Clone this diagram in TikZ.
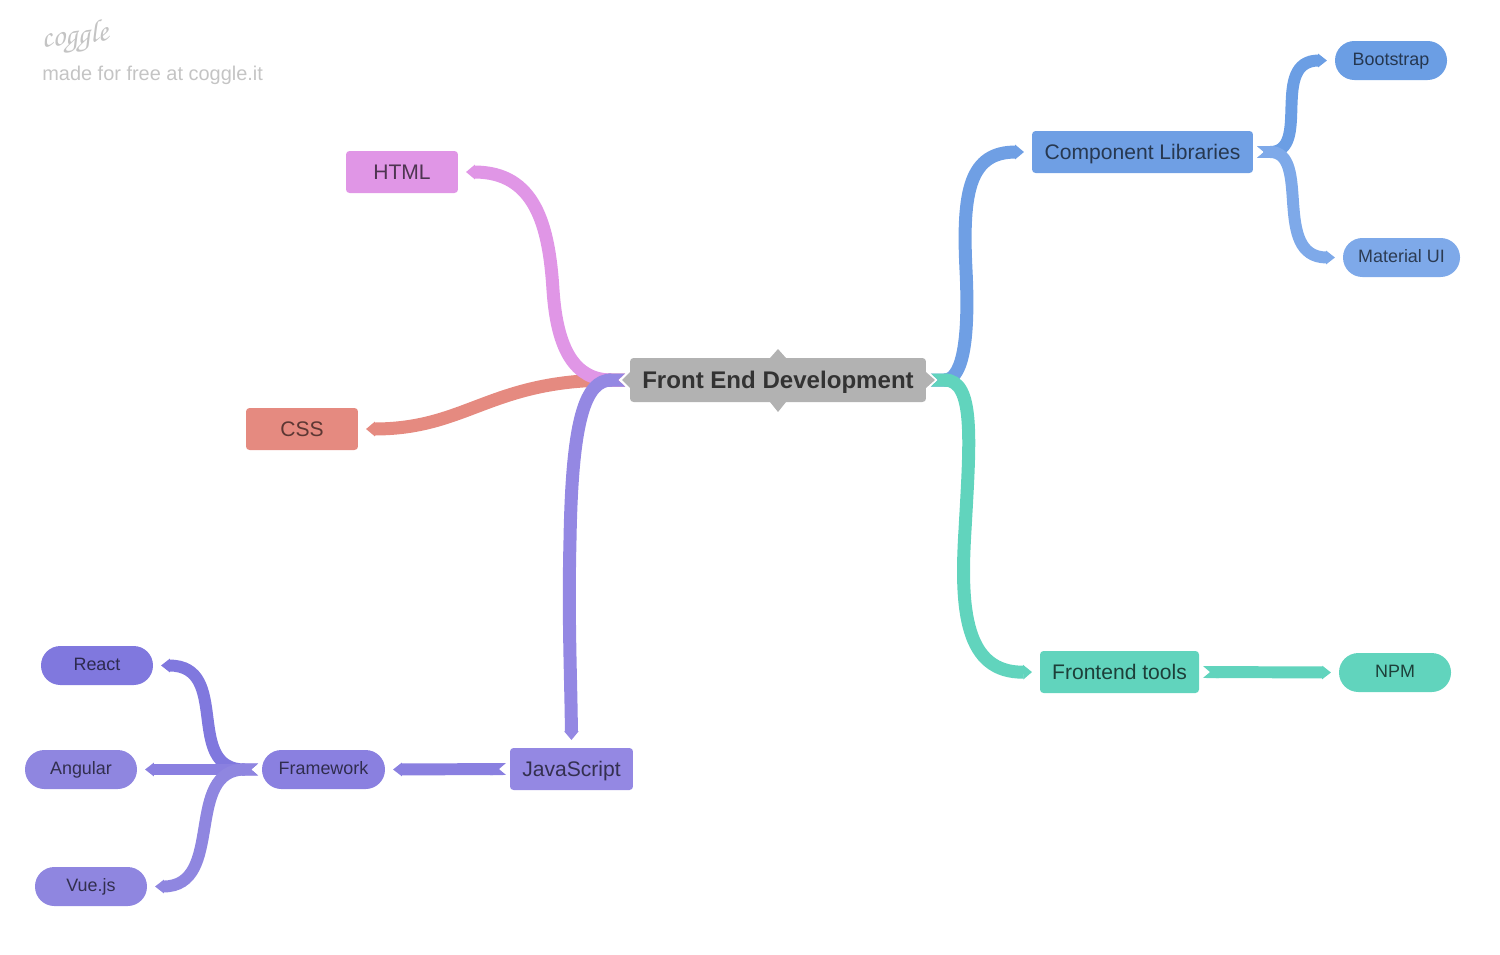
\documentclass[tikz,border=0pt]{standalone}
\usepackage{fontspec}
\setmainfont{Liberation Sans}
\usetikzlibrary{arrows.meta}

\definecolor{rootgray}{HTML}{B2B2B2}
\definecolor{htmlpink}{HTML}{E096E6}
\definecolor{csssalmon}{HTML}{E58A80}
\definecolor{jspurple}{HTML}{9488E3}
\definecolor{leafpurple}{HTML}{8F86E0}
\definecolor{reactpurple}{HTML}{8078DE}
\definecolor{framepurple}{HTML}{8A80E0}
\definecolor{libblue}{HTML}{6F9FE4}
\definecolor{bootblue}{HTML}{6B9EE4}
\definecolor{matblue}{HTML}{7EA9E9}
\definecolor{toolgreen}{HTML}{61D4BD}
\definecolor{markgray}{HTML}{C4C4C4}

\tikzset{
  box/.style={rectangle, rounded corners=2pt, inner sep=0pt, outer sep=2.28pt, minimum height=0.84cm, text height=8.6pt, text depth=0pt, font=\fontsize{12}{15}\selectfont},
  pill/.style={rectangle, rounded corners=11pt, inner sep=0pt, outer sep=2.28pt, minimum height=0.78cm, text height=7.3pt, text depth=2pt, font=\fontsize{10.2}{12}\selectfont},
  bigribbon/.style={line width=7.4pt, {Triangle Cap[reversed,length=4pt]}-{Triangle[width=8pt,length=5pt]}, shorten >=2.28pt},
  ribbon/.style={line width=6.8pt, {Triangle Cap[reversed,length=4pt]}-{Triangle[width=7.4pt,length=5pt]}, shorten >=2.28pt}
}

\begin{document}
\begin{tikzpicture}[x=0.02cm,y=-0.02cm]
  \useasboundingbox (0,0) rectangle (1500,954);

  % watermark
  \node[text=markgray, rotate=6, font=\usefont{OT1}{pzc}{m}{it}\fontsize{18}{20}\selectfont] at (75,38) (logo) {coggle};
  \node[text=markgray, font=\fontsize{11.35}{14}\selectfont, anchor=west, inner sep=0pt] at (42,75) (tagline) {made for free at coggle.it};

  \node[box, fill=rootgray, text=black!80, outer sep=2.84pt, minimum width=5.92cm, minimum height=0.88cm, text height=9.8pt, font=\bfseries\fontsize{13.7}{17}\selectfont] at (778,380) (root) {Front End Development};

  \node[box, fill=htmlpink, text=black!65!htmlpink, minimum width=2.24cm] at (402,172) (html) {HTML};
  \node[box, fill=csssalmon, text=black!60!csssalmon, minimum width=2.24cm] at (302,429) (css) {CSS};
  \node[box, fill=jspurple, text=black!65!jspurple, minimum width=2.46cm] at (571.5,769) (js) {JavaScript};
  \node[box, fill=libblue, text=black!65!libblue, minimum width=4.42cm] at (1142.5,152) (libs) {Component Libraries};
  \node[box, fill=toolgreen, text=black!70!toolgreen, minimum width=3.18cm] at (1119.5,672) (tools) {Frontend tools};

  \node[pill, fill=bootblue, text=black!65!bootblue, minimum width=2.24cm] at (1391,60.5) (bootstrap) {Bootstrap};
  \node[pill, fill=matblue, text=black!65!matblue, minimum width=2.34cm] at (1401.5,257.5) (material) {Material UI};
  \node[pill, fill=toolgreen, text=black!70!toolgreen, minimum width=2.24cm] at (1395,672.5) (npm) {NPM};
  \node[pill, fill=framepurple, text=black!65!framepurple, minimum width=2.46cm] at (323.5,769.5) (framework) {Framework};
  \node[pill, fill=reactpurple, text=black!65!reactpurple, minimum width=2.24cm] at (97,665.5) (react) {React};
  \node[pill, fill=leafpurple, text=black!65!leafpurple, minimum width=2.24cm] at (81,769.5) (angular) {Angular};
  \node[pill, fill=leafpurple, text=black!65!leafpurple, minimum width=2.24cm] at (91,886.5) (vue) {Vue.js};

  % points around the root
  \fill[rootgray] (root.north) ++(-8,5) -- ++(8,-9) -- ++(8,9) -- cycle;
  \fill[rootgray] (root.south) ++(-8,-5) -- ++(8,10) -- ++(8,-10) -- cycle;
  \fill[rootgray] (root.west) ++(5,-8) -- ++(-8,8) -- ++(8,8) -- cycle;
  \fill[rootgray] (root.east) ++(-5,-8) -- ++(9,8) -- ++(-9,8) -- cycle;

  % left side of the root
  \draw[bigribbon, csssalmon] (root.west) .. controls +(-135,0) and +(105,0) .. (css.east);
  \draw[bigribbon, htmlpink] (root.west) .. controls (575,380) and (557,350) .. (553,290) .. controls (549,225) and (535,172) .. (html.east);
  \draw[bigribbon, jspurple] (root.west) .. controls (585,380) and (572,420) .. (570,540) .. controls (568,620) and (571,680) .. (js.north);

  % right side of the root
  \draw[bigribbon, libblue] (root.east) .. controls (960,380) and (970,350) .. (966,270) .. controls (962,190) and (970,152) .. (libs.west);
  \draw[bigribbon, toolgreen] (root.east) .. controls (975,380) and (970,440) .. (965,530) .. controls (960,610) and (965,673) .. (tools.west);

  \draw[ribbon, bootblue] (libs.east) .. controls +(55,0) and +(-62,0) .. (bootstrap.west);
  \draw[ribbon, matblue] (libs.east) .. controls +(55,0) and +(-68,0) .. (material.west);
  \draw[ribbon, toolgreen] (tools.east) -- (npm.west);

  \draw[ribbon, framepurple] (js.west) -- (framework.east);
  \draw[ribbon, reactpurple] (framework.west) .. controls +(-75,0) and +(75,0) .. (react.east);
  \draw[ribbon, framepurple] (framework.west) -- (angular.east);
  \draw[ribbon, leafpurple] (framework.west) .. controls +(-75,0) and +(75,0) .. (vue.east);
\end{tikzpicture}
\end{document}
